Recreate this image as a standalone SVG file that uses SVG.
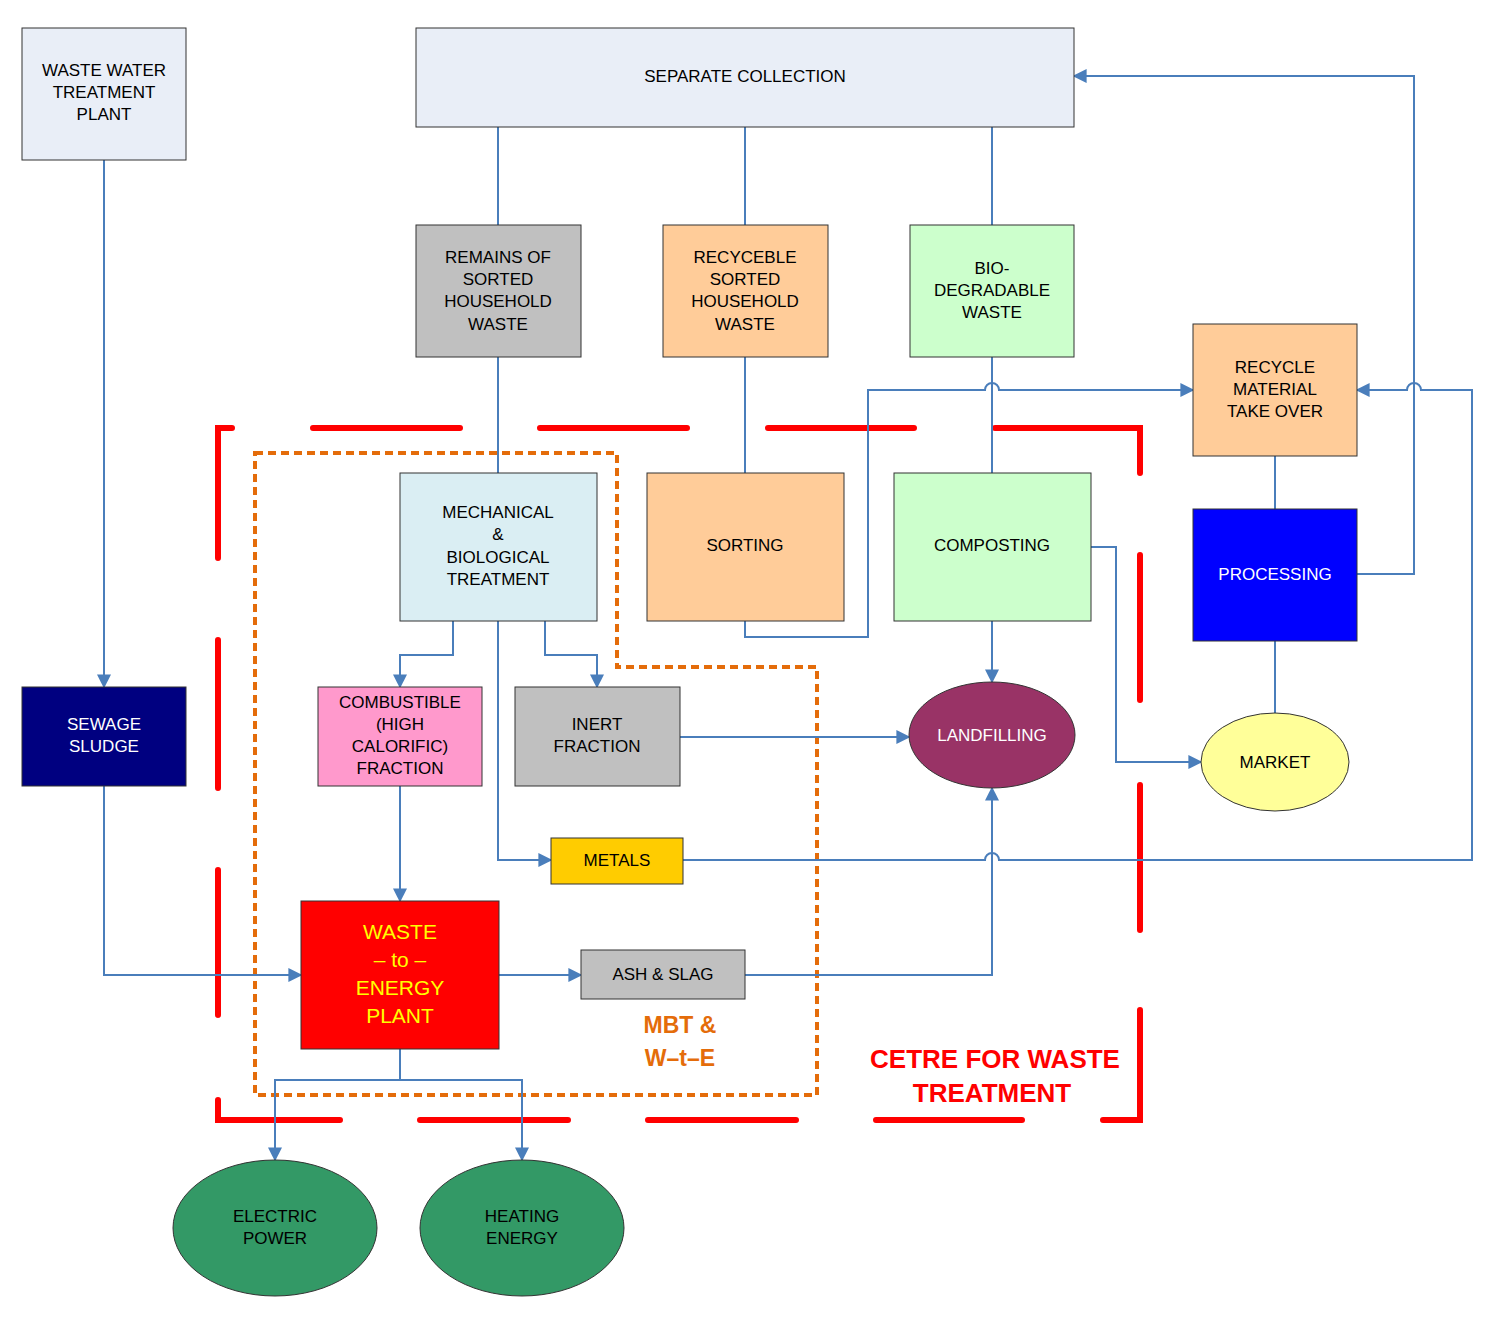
<svg xmlns="http://www.w3.org/2000/svg" width="1489" height="1331" viewBox="0 0 1489 1331">
<defs>
<marker id="a" viewBox="0 0 10 10" refX="9" refY="5" markerWidth="10" markerHeight="10" markerUnits="userSpaceOnUse" orient="auto"><path d="M0,0L10,5L0,10z" fill="#4a7ebb"/></marker>
<marker id="b" viewBox="0 0 10 10" refX="9" refY="5" markerWidth="14" markerHeight="14" markerUnits="userSpaceOnUse" orient="auto"><path d="M0,0L10,5L0,10z" fill="#4a7ebb"/></marker>
</defs>
<style>
text{font-family:"Liberation Sans",Arial,sans-serif;font-size:17px;text-anchor:middle;fill:#000}
.n{stroke:#333;stroke-width:1}
.w{fill:#fff}
.c{fill:none;stroke:#4a7ebb;stroke-width:2;marker-end:url(#b)}
.p{fill:none;stroke:#4a7ebb;stroke-width:2}
.r{fill:none;stroke:#ff0000;stroke-width:6;stroke-linecap:round}
</style>
<rect width="1489" height="1331" fill="#fff"/>
<g id="boundaries">
<path class="r" d="M232,428H218V558M313,428H460M540,428H687M768,428H914M995,428H1140V473M218,640V788M218,870V1015M218,1100V1120H340M420,1120H568M648,1120H796M876,1120H1022M1103,1120H1140V1010M1140,930V785M1140,700V555"/>
<path d="M255,453H617V667H817V1095H255Z" fill="none" stroke="#e46c0a" stroke-width="4" stroke-dasharray="8 5"/>
<text x="995" y="1068" style="font-size:26px;font-weight:bold;fill:#ff0000">CETRE FOR WASTE</text>
<text x="992" y="1102" style="font-size:26px;font-weight:bold;fill:#ff0000">TREATMENT</text>
<text x="680" y="1033" style="font-size:23px;font-weight:bold;fill:#e46c0a">MBT &amp;</text>
<text x="680" y="1066" style="font-size:23px;font-weight:bold;fill:#e46c0a">W–t–E</text>
</g>
<g id="connectors">
<path class="c" d="M498,127V225M745,127V225M992,127V225M498,357V473M745,357V473M992,357V473M1275,456V509M1275,641V713M992,621V682"/>
<path class="c" d="M745,621V637H868V390H985A7,7 0 0 1 999,390H1193"/>
<path class="c" d="M1357,574H1414V76H1074"/>
<path class="c" d="M683,860H985A7,7 0 0 1 999,860H1472V390H1421A7,7 0 0 0 1407,390H1357"/>
<path class="c" d="M1091,547H1116V762H1201"/>
<path class="c" d="M680,737H909"/>
<path class="c" d="M453,621V655H400V687"/>
<path class="c" d="M545,621V655H597V687"/>
<path class="c" d="M498,621V860H551"/>
<path class="c" d="M400,786V901"/>
<path class="c" d="M104,160V687"/>
<path class="c" d="M104,786V975H301"/>
<path class="c" d="M499,975H581"/>
<path class="c" d="M745,975H992V788"/>
<path class="c" d="M400,1049V1080H275V1160"/>
<path class="c" d="M400,1080H522V1160"/>
</g>
<g id="wwtp"><rect class="n" x="22" y="28" width="164" height="132" fill="#e9eef7"/><text x="104" y="76">WASTE WATER</text><text x="104" y="98">TREATMENT</text><text x="104" y="120">PLANT</text></g>
<g id="separate"><rect class="n" x="416" y="28" width="658" height="99" fill="#e9eef7"/><text x="745" y="82">SEPARATE COLLECTION</text></g>
<g id="remains"><rect class="n" x="416" y="225" width="165" height="132" fill="#c0c0c0"/><text x="498" y="263">REMAINS OF</text><text x="498" y="285">SORTED</text><text x="498" y="307">HOUSEHOLD</text><text x="498" y="330">WASTE</text></g>
<g id="recyceble"><rect class="n" x="663" y="225" width="165" height="132" fill="#ffcc99"/><text x="745" y="263">RECYCEBLE</text><text x="745" y="285">SORTED</text><text x="745" y="307">HOUSEHOLD</text><text x="745" y="330">WASTE</text></g>
<g id="bio"><rect class="n" x="910" y="225" width="164" height="132" fill="#ccffcc"/><text x="992" y="274">BIO-</text><text x="992" y="296">DEGRADABLE</text><text x="992" y="318">WASTE</text></g>
<g id="takeover"><rect class="n" x="1193" y="324" width="164" height="132" fill="#ffcc99"/><text x="1275" y="373">RECYCLE</text><text x="1275" y="395">MATERIAL</text><text x="1275" y="417">TAKE OVER</text></g>
<g id="mbt"><rect class="n" x="400" y="473" width="197" height="148" fill="#daeef3"/><text x="498" y="518">MECHANICAL</text><text x="498" y="540">&amp;</text><text x="498" y="563">BIOLOGICAL</text><text x="498" y="585">TREATMENT</text></g>
<g id="sorting"><rect class="n" x="647" y="473" width="197" height="148" fill="#ffcc99"/><text x="745" y="551">SORTING</text></g>
<g id="composting"><rect class="n" x="894" y="473" width="197" height="148" fill="#ccffcc"/><text x="992" y="551">COMPOSTING</text></g>
<g id="processing"><rect class="n" x="1193" y="509" width="164" height="132" fill="#0000ff"/><text class="w" x="1275" y="580">PROCESSING</text></g>
<g id="sludge"><rect class="n" x="22" y="687" width="164" height="99" fill="#000080"/><text class="w" x="104" y="730">SEWAGE</text><text class="w" x="104" y="752">SLUDGE</text></g>
<g id="combustible"><rect class="n" x="318" y="687" width="164" height="99" fill="#ff99cc"/><text x="400" y="708">COMBUSTIBLE</text><text x="400" y="730">(HIGH</text><text x="400" y="752">CALORIFIC)</text><text x="400" y="774">FRACTION</text></g>
<g id="inert"><rect class="n" x="515" y="687" width="165" height="99" fill="#c0c0c0"/><text x="597" y="730">INERT</text><text x="597" y="752">FRACTION</text></g>
<g id="landfilling"><ellipse class="n" cx="992" cy="735" rx="83" ry="53" fill="#993366"/><text class="w" x="992" y="741">LANDFILLING</text></g>
<g id="market"><ellipse class="n" cx="1275" cy="762" rx="74" ry="49" fill="#ffff99"/><text x="1275" y="768">MARKET</text></g>
<g id="metals"><rect class="n" x="551" y="838" width="132" height="46" fill="#ffcc00"/><text x="617" y="866">METALS</text></g>
<g id="wte"><rect class="n" x="301" y="901" width="198" height="148" fill="#ff0000"/><text x="400" y="939" style="font-size:21px;fill:#ffff00">WASTE</text><text x="400" y="967" style="font-size:21px;fill:#ffff00">– to –</text><text x="400" y="995" style="font-size:21px;fill:#ffff00">ENERGY</text><text x="400" y="1023" style="font-size:21px;fill:#ffff00">PLANT</text></g>
<g id="ash"><rect class="n" x="581" y="950" width="164" height="49" fill="#c0c0c0"/><text x="663" y="980">ASH &amp; SLAG</text></g>
<g id="electric"><ellipse class="n" cx="275" cy="1228" rx="102" ry="68" fill="#339966"/><text x="275" y="1222">ELECTRIC</text><text x="275" y="1244">POWER</text></g>
<g id="heating"><ellipse class="n" cx="522" cy="1228" rx="102" ry="68" fill="#339966"/><text x="522" y="1222">HEATING</text><text x="522" y="1244">ENERGY</text></g>
</svg>
